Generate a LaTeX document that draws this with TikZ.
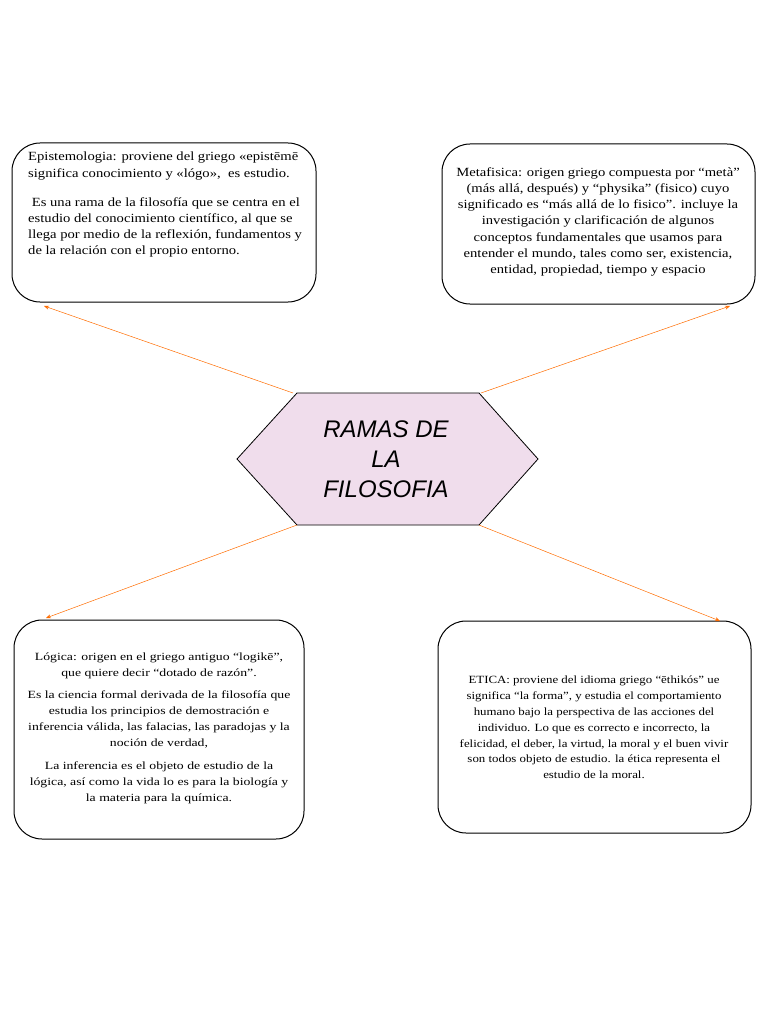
\documentclass[tikz,border=0pt]{standalone}
\usepackage{fontspec}
\setmainfont{Liberation Serif}[FakeStretch=1.17]
\newfontfamily\widerfont{Liberation Serif}[FakeStretch=1.25]
\setsansfont{Liberation Sans}
\usetikzlibrary{arrows.meta}
\begin{document}
\begin{tikzpicture}[x=1pt,y=-1pt,
  box/.style={draw, line width=1pt, rounded corners=28pt},
  txt/.style={font=\fontsize{12.5}{16.3}\selectfont, inner sep=0pt},
  stxt/.style={font=\fontsize{11}{15.8}\selectfont, inner sep=0pt, align=center},
  conn/.style={draw=orange!85!red, line width=0.5pt, -{Stealth[length=5pt,width=4pt]}}]
\useasboundingbox (0,0) rectangle (768,1024);
% boxes
\draw[box] (12,143) rectangle (316,302);
\draw[box] (442,144) rectangle (755,304);
\draw[box] (14,620) rectangle (304,839);
\draw[box] (438,621) rectangle (751,833);
\node[txt, anchor=north west, align=left] (epi) at (28,152) {Epistemologia: proviene del griego «epistēmē\\significa conocimiento y «lógo»,\ \ es estudio.};
\node[txt, anchor=north west, align=left] (epi2) at (28,197) {\ Es una rama de la filosofía que se centra en el\\estudio del conocimiento científico, al que se\\llega por medio de la reflexión, fundamentos y\\de la relación con el propio entorno.};
\node[txt, anchor=north, align=center] (meta) at (598,167) {Metafisica: origen griego compuesta por “metà”\\(más allá, después) y “physika” (fisico) cuyo\\significado es “más allá de lo fisico”. incluye la\\investigación y clarificación de algunos\\conceptos fundamentales que usamos para\\entender el mundo, tales como ser, existencia,\\entidad, propiedad, tiempo y espacio};
\node[stxt, font=\widerfont\fontsize{11}{15.8}\selectfont, anchor=north] (log) at (159,653) {Lógica: origen en el griego antiguo “logikē”,\\que quiere decir “dotado de razón”.};
\node[stxt, font=\widerfont\fontsize{11}{15.8}\selectfont, anchor=north] (log2) at (159,691) {Es la ciencia formal derivada de la filosofía que\\estudia los principios de demostración e\\inferencia válida, las falacias, las paradojas y la\\noción de verdad,};
\node[stxt, font=\widerfont\fontsize{11}{15.8}\selectfont, anchor=north] (log3) at (159,762) {La inferencia es el objeto de estudio de la\\lógica, así como la vida lo es para la biología y\\la materia para la química.};
\node[stxt, anchor=north] (eti) at (594,676) {ETICA: proviene del idioma griego “ēthikós” ue\\significa “la forma”, y estudia el comportamiento\\humano bajo la perspectiva de las acciones del\\individuo. Lo que es correcto e incorrecto, la\\felicidad, el deber, la virtud, la moral y el buen vivir\\son todos objeto de estudio. la ética representa el\\estudio de la moral.};
% hexagon
\coordinate (htl) at (297,393);
\coordinate (htr) at (479,393);
\coordinate (hr) at (538,459);
\coordinate (hbr) at (479,525);
\coordinate (hbl) at (297,525);
\coordinate (hl) at (237,459);
\draw[fill=pink!35!violet!18, line width=0.8pt] (htl)--(htr)--(hr)--(hbr)--(hbl)--(hl)--cycle;
\node[font=\sffamily\itshape\fontsize{24}{30}\selectfont, align=center, inner sep=0pt] (hex) at (386,459) {RAMAS DE\\LA\\FILOSOFIA};
% arrow ends
\coordinate (e1) at (44,306);
\coordinate (e2) at (730,306);
\coordinate (e3) at (46,618);
\coordinate (e4) at (720,621);
\draw[conn] (293,393) -- (e1);
\draw[conn] (481,393) -- (e2);
\draw[conn] (hbl) -- (e3);
\draw[conn] (hbr) -- (e4);
\end{tikzpicture}
\end{document}
